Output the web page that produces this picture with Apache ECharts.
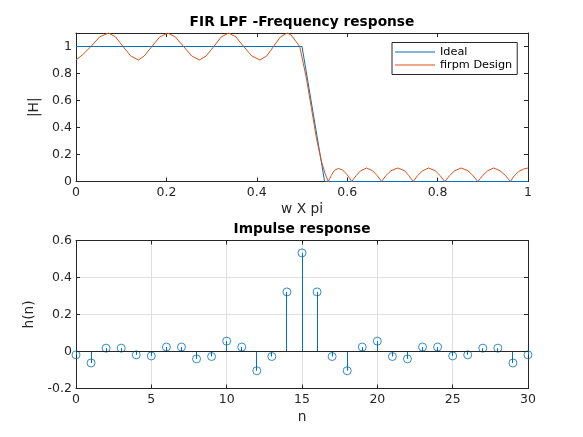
<!DOCTYPE html>
<html>
<head>
<meta charset="utf-8">
<script src="https://cdn.jsdelivr.net/npm/echarts@6/dist/echarts.min.js"></script>
<style>html,body{margin:0;padding:0;background:#fff;}#c{width:583px;height:437px;}</style>
</head>
<body>
<div id="c"></div>
<script>
// ---- Data ----
var freqTicks = [0, 0.2, 0.4, 0.6, 0.8, 1];
var magTicks = [0, 0.2, 0.4, 0.6, 0.8, 1];
var idealW = [0, 0.5, 0.55, 1];
var idealH = [1, 1, 0, 0];
var designW = [0, 0.015, 0.033, 0.052, 0.072, 0.088, 0.104, 0.121, 0.138, 0.151, 0.168, 0.185, 0.203, 0.220, 0.238, 0.256, 0.273, 0.288, 0.305, 0.321, 0.338, 0.354, 0.371, 0.389, 0.407, 0.422, 0.437, 0.452, 0.467, 0.476, 0.486, 0.495, 0.510, 0.521, 0.532, 0.543, 0.551, 0.558,
  0.565, 0.571, 0.580, 0.590, 0.600, 0.610,
  0.620, 0.630, 0.643, 0.656, 0.666, 0.676,
  0.686, 0.697, 0.712, 0.727, 0.736, 0.746,
  0.756, 0.767, 0.780, 0.795, 0.805, 0.816,
  0.827, 0.838, 0.852, 0.867, 0.878, 0.889,
  0.900, 0.911, 0.924, 0.938, 0.950, 0.961,
  0.970, 0.980, 0.990, 1.0];
var designH = [0.90, 0.94, 1.00, 1.07, 1.10, 1.07, 1.00, 0.93, 0.90, 0.93, 1.00, 1.07, 1.10, 1.07, 1.00, 0.93, 0.90, 0.93, 1.00, 1.07, 1.10, 1.07, 1.00, 0.93, 0.90, 0.93, 1.00, 1.07, 1.10, 1.085, 1.04, 1.00, 0.76, 0.54, 0.32, 0.15, 0.06, 0.00,
  0.045, 0.08, 0.097, 0.085, 0.05, 0.0,
  0.045, 0.08, 0.10, 0.08, 0.045, 0.0,
  0.045, 0.08, 0.10, 0.08, 0.045, 0.0,
  0.045, 0.08, 0.10, 0.08, 0.045, 0.0,
  0.045, 0.08, 0.10, 0.08, 0.045, 0.0,
  0.045, 0.08, 0.10, 0.08, 0.045, 0.0,
  0.045, 0.075, 0.092, 0.10];
var nIdx = [0,1,2,3,4,5,6,7,8,9,10,11,12,13,14,15,16,17,18,19,20,21,22,23,24,25,26,27,28,29,30];
var hVals = [-0.018, -0.062, 0.018, 0.018, -0.018, -0.024, 0.024, 0.024, -0.040, -0.027, 0.056, 0.024, -0.104, -0.027, 0.322, 0.533, 0.322, -0.027, -0.104, 0.024, 0.056, -0.027, -0.040, 0.024, 0.024, -0.024, -0.018, 0.018, 0.018, -0.062, -0.018];
var nTicks = [0, 5, 10, 15, 20, 25, 30];
var hTicks = [-0.2, 0, 0.2, 0.4, 0.6];

// ---- Build ----
var AX = '#262626';
var BLUE = '#0072BD', RED = '#D95319';
var FONT = 'DejaVu Sans';
var TICK_FS = 12.5, LABEL_FS = 13.75, LEGEND_FS = 11.25;
function pairs(a, b) { return a.map(function (v, i) { return [v, b[i]]; }); }

function mainAxis(extra) {
  var o = {
    type: 'value',
    axisLine: { show: true, onZero: false, lineStyle: { color: AX, width: 1 } },
    axisTick: { show: true, inside: true, length: 4, lineStyle: { color: AX } },
    axisLabel: { show: true, color: AX, fontFamily: FONT, fontSize: TICK_FS },
    splitLine: { show: false }
  };
  for (var k in extra) o[k] = extra[k];
  return o;
}
function mirrorAxis(extra) {
  var o = mainAxis(extra);
  o.axisLabel = { show: false };
  o.name = '';
  return o;
}
var gridLine = { show: true, lineStyle: { color: '#dfdfdf', width: 1 } };
var nameStyle = { fontFamily: FONT, fontSize: LABEL_FS, color: AX };
var titleFont = 'bold ' + LABEL_FS + 'px "' + FONT + '"';

var option = {
  animation: false,
  backgroundColor: '#fff',
  textStyle: { fontFamily: FONT },
  graphic: [
    { type: 'text', x: 302, y: 22, silent: true,
      style: { text: 'FIR LPF -Frequency response', font: titleFont, fill: '#000', textAlign: 'center', textVerticalAlign: 'middle' } },
    { type: 'text', x: 302, y: 229.5, silent: true,
      style: { text: 'Impulse response', font: titleFont, fill: '#000', textAlign: 'center', textVerticalAlign: 'middle' } }
  ],
  legend: {
    data: [{ name: 'Ideal', icon: 'rect' }, { name: 'firpm Design', icon: 'rect' }],
    orient: 'vertical',
    left: 392, top: 42.5,
    padding: [3, 5, 3, 3],
    itemGap: 0,
    itemWidth: 40, itemHeight: 1,
    itemStyle: { borderWidth: 0 },
    backgroundColor: '#fff',
    borderColor: AX, borderWidth: 1, borderRadius: 0,
    textStyle: { fontFamily: FONT, fontSize: LEGEND_FS, lineHeight: 13, color: '#000', padding: [0, 0, 0, 0] }
  },
  grid: [
    { left: 76, right: 55, top: 33, height: 148.5 },
    { left: 76, right: 55, top: 240.5, height: 148 }
  ],
  xAxis: [
    mainAxis({ gridIndex: 0, min: 0, max: 1, interval: 0.2, position: 'bottom',
      name: 'w X pi', nameLocation: 'middle', nameGap: 21, nameTextStyle: nameStyle,
      axisLabel: { show: true, color: AX, fontFamily: FONT, fontSize: TICK_FS, margin: 5 } }),
    mirrorAxis({ gridIndex: 0, min: 0, max: 1, interval: 0.2, position: 'top' }),
    mainAxis({ gridIndex: 1, min: 0, max: 30, interval: 5, position: 'bottom',
      name: 'n', nameLocation: 'middle', nameGap: 22, nameTextStyle: nameStyle,
      axisLabel: { show: true, color: AX, fontFamily: FONT, fontSize: TICK_FS, margin: 5 },
      splitLine: gridLine }),
    mirrorAxis({ gridIndex: 1, min: 0, max: 30, interval: 5, position: 'top' })
  ],
  yAxis: [
    mainAxis({ gridIndex: 0, min: 0, max: 1.1, interval: 0.2, position: 'left',
      name: '|H|', nameLocation: 'middle', nameGap: 28, nameTextStyle: nameStyle,
      axisLabel: { show: true, color: AX, fontFamily: FONT, fontSize: TICK_FS, margin: 4, customValues: magTicks },
      axisTick: { show: true, inside: true, length: 4, lineStyle: { color: AX }, customValues: magTicks } }),
    mirrorAxis({ gridIndex: 0, min: 0, max: 1.1, interval: 0.2, position: 'right',
      axisTick: { show: true, inside: true, length: 4, lineStyle: { color: AX }, customValues: magTicks } }),
    mainAxis({ gridIndex: 1, min: -0.2, max: 0.6, interval: 0.2, position: 'left',
      name: 'h(n)', nameLocation: 'middle', nameGap: 33, nameTextStyle: nameStyle,
      axisLabel: { show: true, color: AX, fontFamily: FONT, fontSize: TICK_FS, margin: 4 },
      splitLine: gridLine }),
    mirrorAxis({ gridIndex: 1, min: -0.2, max: 0.6, interval: 0.2, position: 'right' })
  ],
  series: [
    { name: 'Ideal', type: 'line', xAxisIndex: 0, yAxisIndex: 0,
      data: pairs(idealW, idealH), symbol: 'none', showSymbol: false,
      lineStyle: { color: BLUE, width: 1 }, itemStyle: { color: BLUE }, z: 3 },
    { name: 'firpm Design', type: 'line', xAxisIndex: 0, yAxisIndex: 0,
      data: pairs(designW, designH), symbol: 'none', showSymbol: false,
      lineStyle: { color: RED, width: 1 }, itemStyle: { color: RED }, z: 4 },
    { name: 'stems', type: 'custom', xAxisIndex: 2, yAxisIndex: 2,
      data: pairs(nIdx, hVals), clip: false,
      renderItem: function (params, api) {
        var x = api.value(0), y = api.value(1);
        var p0 = api.coord([x, 0]), p1 = api.coord([x, y]);
        var px = Math.round(p0[0] - 0.5) + 0.5;
        return { type: 'line', shape: { x1: px, y1: p0[1], x2: px, y2: p1[1] },
          style: { stroke: BLUE, lineWidth: 1 } };
      },
      markLine: { silent: true, symbol: ['none', 'none'], label: { show: false },
        lineStyle: { color: AX, width: 1, type: 'solid' }, data: [{ yAxis: 0 }] },
      z: 3 },
    { name: 'markers', type: 'scatter', xAxisIndex: 2, yAxisIndex: 2,
      data: pairs(nIdx, hVals), symbol: 'circle', symbolSize: 8, clip: false,
      itemStyle: { color: 'rgba(0,0,0,0)', borderColor: BLUE, borderWidth: 1 }, z: 4 }
  ]
};
var chart = echarts.init(document.getElementById('c'), null, { renderer: 'canvas' });
chart.setOption(option);
</script>
</body>
</html>
